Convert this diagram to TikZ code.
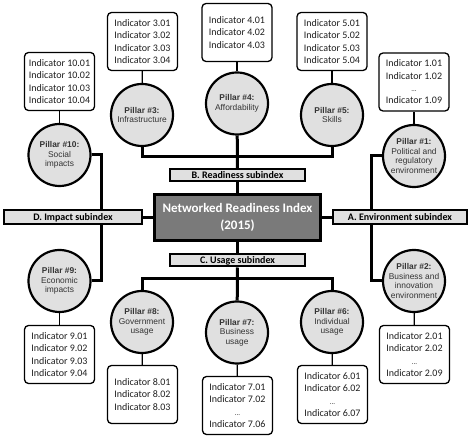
\documentclass[tikz,border=0pt]{standalone}
\usepackage{fontspec}
\setmainfont{Carlito}
\newfontfamily\pillarfont{Liberation Sans}
\definecolor{boxgray}{HTML}{E0E0E0}
\definecolor{indexgray}{HTML}{7A7A7A}
\definecolor{pillartext}{HTML}{333333}
\newcommand{\inddots}{{\fontsize{7}{8}\selectfont ...}}

\tikzset{
  pillar/.style={circle, draw, line width=2.2pt, fill=boxgray, minimum size=62pt,
    inner sep=0pt, align=center, text=pillartext,
    font=\pillarfont\fontsize{8.4}{9.6}\selectfont},
  indbox/.style={draw, line width=1.3pt, rounded corners=4pt, fill=white,
    minimum width=70pt, minimum height=58pt, align=center, text=black!88,
    font=\fontsize{10}{12.3}\selectfont},
  subbox/.style={draw, line width=2pt, fill=boxgray, inner sep=0pt,
    font=\bfseries\fontsize{10}{12}\selectfont},
  bus/.style={line width=3pt},
  twig/.style={line width=1.2pt}
}

\begin{document}
\begin{tikzpicture}[x=1pt,y=-1pt]
        \useasboundingbox (0,0) rectangle (474,438);

        % index and subindexes
        \node[draw, line width=3pt, fill=indexgray, text=white, minimum width=166pt,
          minimum height=46pt, align=center, font=\bfseries\fontsize{13}{16.5}\selectfont]
          (nri) at (237.5,217.5) {Networked Readiness Index\\(2015)};
        \node[subbox, minimum width=135pt, minimum height=12pt] (rsub) at (237.5,175.5) {B. Readiness subindex};
        \node[subbox, minimum width=135pt, minimum height=12pt] (usub) at (237.5,260.5) {C. Usage subindex};
        \node[subbox, minimum width=138pt, minimum height=14pt] (isub) at (73,217.5) {D. Impact subindex};
        \node[subbox, minimum width=134pt, minimum height=14pt] (esub) at (400,217.5) {A. Environment subindex};

        % pillars
        \node[pillar] (p10) at (59.5,155) {\textbf{Pillar \#10:}\\Social\\impacts};
        \node[pillar] (p3)  at (142,115)  {\textbf{Pillar \#3:}\\Infrastructure};
        \node[pillar] (p4)  at (237,103.5) {\textbf{Pillar \#4:}\\Affordability};
        \node[pillar] (p5)  at (332,115)  {\textbf{Pillar \#5:}\\Skills};
        \node[pillar] (p1)  at (414,156)  {\textbf{Pillar \#1:}\\Political and\\regulatory\\environment};
        \node[pillar] (p9)  at (59.5,281) {\textbf{Pillar \#9:}\\Economic\\impacts};
        \node[pillar] (p8)  at (142,322)  {\textbf{Pillar \#8:}\\Government\\usage};
        \node[pillar] (p7)  at (237,332.5) {\textbf{Pillar \#7:}\\Business\\usage};
        \node[pillar] (p6)  at (332,322)  {\textbf{Pillar \#6:}\\Individual\\usage};
        \node[pillar] (p2)  at (414,281)  {\textbf{Pillar \#2:}\\Business and\\innovation\\environment};

        % indicators
        \node[indbox] (i10) at (59.5,81.5)  {Indicator 10.01\\Indicator 10.02\\Indicator 10.03\\Indicator 10.04};
        \node[indbox] (i3)  at (142.5,41.5) {Indicator 3.01\\Indicator 3.02\\Indicator 3.03\\Indicator 3.04};
        \node[indbox] (i4)  at (237,32.5)   {Indicator 4.01\\Indicator 4.02\\Indicator 4.03};
        \node[indbox] (i5)  at (332,41.5)   {Indicator 5.01\\Indicator 5.02\\Indicator 5.03\\Indicator 5.04};
        \node[indbox] (i1)  at (414,82)     {Indicator 1.01\\Indicator 1.02\\\inddots\\Indicator 1.09};
        \node[indbox] (i9)  at (59.5,354.5) {Indicator 9.01\\Indicator 9.02\\Indicator 9.03\\Indicator 9.04};
        \node[indbox] (i8)  at (142.5,394.5) {Indicator 8.01\\Indicator 8.02\\Indicator 8.03};
        \node[indbox] (i7)  at (237.5,405.5) {Indicator 7.01\\Indicator 7.02\\\inddots\\Indicator 7.06};
        \node[indbox] (i6)  at (332.5,394.5) {Indicator 6.01\\Indicator 6.02\\\inddots\\Indicator 6.07};
        \node[indbox] (i2)  at (414.5,354.5) {Indicator 2.01\\Indicator 2.02\\\inddots\\Indicator 2.09};

        \coordinate (topbus)   at (237,157);
        \coordinate (botbus)   at (237,279);
        \coordinate (leftbus)  at (101,217.5);
        \coordinate (rightbus) at (371,217.5);

        % thick connectors
        \draw[bus] (nri) -- (rsub);
        \draw[bus] (rsub) -- (p4);
        \draw[bus] (p3.south) |- (topbus) -| (p5.south);
        \draw[bus] (nri) -- (usub);
        \draw[bus] (usub) -- (p7);
        \draw[bus] (p8.north) |- (botbus) -| (p6.north);
        \draw[bus] (nri) -- (isub);
        \draw[bus] (nri) -- (esub);
        \draw[bus] (p10.east) -| (leftbus |- isub.north);
        \draw[bus] (p9.east) -| (leftbus |- isub.south);
        \draw[bus] (p1.west) -| (rightbus |- esub.north);
        \draw[bus] (p2.west) -| (rightbus |- esub.south);

        % thin connectors
        \foreach \p in {10,3,4,5,1,9,8,7,6,2}
          \draw[twig] (p\p) -- (i\p);
      \end{tikzpicture}
\end{document}
